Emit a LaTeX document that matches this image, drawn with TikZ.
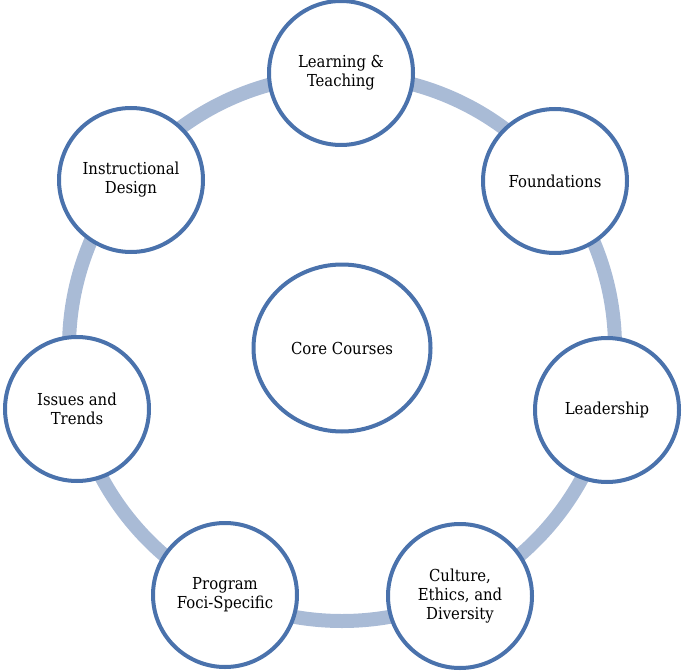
\documentclass[tikz,border=0pt]{standalone}
\usepackage{fontspec}
\setmainfont{DejaVu Serif Condensed}
\usetikzlibrary{shapes.geometric}
\definecolor{ringblue}{HTML}{A9BBD6}
\definecolor{edgeblue}{HTML}{4A72AC}
\begin{document}
\begin{tikzpicture}[x=1pt,y=-1pt,
  topic/.style={circle,draw=edgeblue,line width=4pt,fill=white,minimum size=144pt,inner sep=0pt,align=center,font=\fontsize{16.5}{19}\selectfont},
  core/.style={ellipse,draw=edgeblue,line width=4pt,fill=white,minimum width=177pt,minimum height=167pt,inner sep=0pt,align=center,font=\fontsize{16.5}{19}\selectfont}]
\useasboundingbox (0,0) rectangle (685,671);
\coordinate (c) at (342,348);
\draw[ringblue,line width=14pt] (c) circle[radius=273pt];
\node[core] (core) at (c) {Core Courses};
\node[topic] (learn) at (341,73) {Learning \&\\Teaching};
\node[topic] (found) at (555,181) {Foundations};
\node[topic] (lead) at (607,410) {Leadership};
\node[topic] (cult) at (460,596) {Culture,\\Ethics, and\\Diversity};
\node[topic] (prog) at (225,595) {Program\\Foci-Specific};
\node[topic] (issue) at (77,409) {Issues and\\Trends};
\node[topic] (instr) at (131,180) {Instructional\\Design};
\end{tikzpicture}
\end{document}
